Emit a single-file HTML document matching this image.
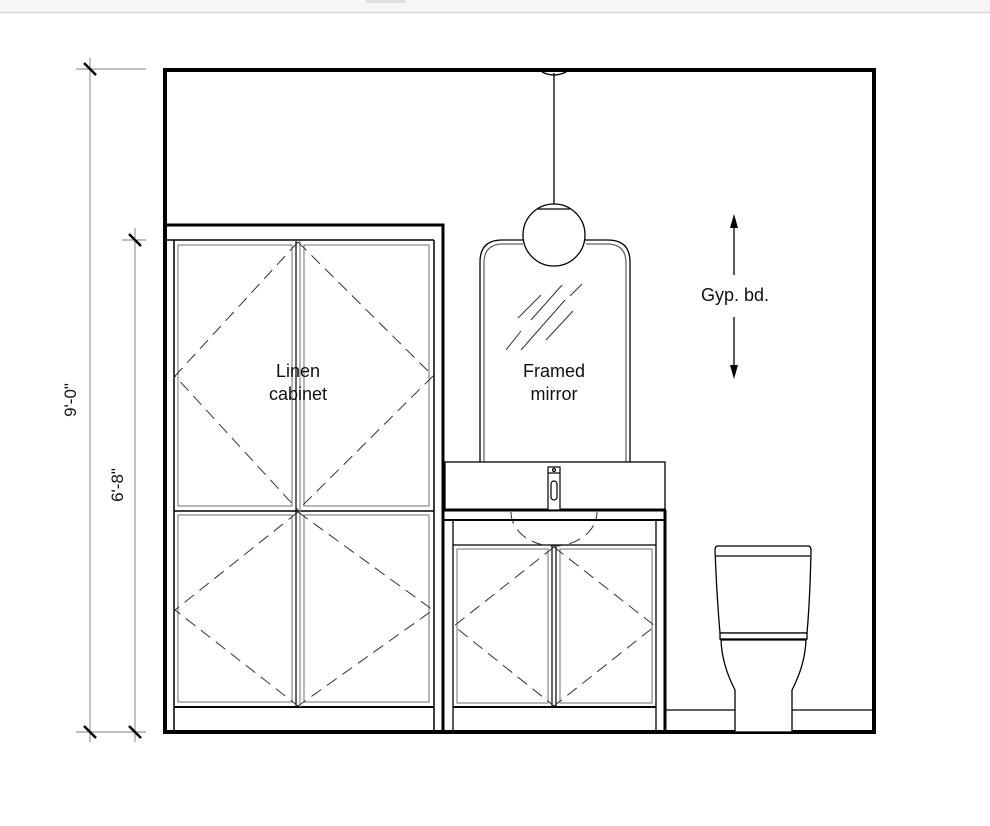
<!DOCTYPE html>
<html><head><meta charset="utf-8"><style>
html,body{margin:0;padding:0;background:#fff;}
svg{display:block;}
text{font-family:"Liberation Sans",Arial,sans-serif;fill:#111;}
</style></head><body>
<svg width="990" height="826" viewBox="0 0 990 826" xmlns="http://www.w3.org/2000/svg">
<rect x="0" y="0" width="990" height="12" fill="#f6f6f6"/>
<line x1="0" y1="12.5" x2="990" y2="12.5" stroke="#d8d8d8" stroke-width="1.5"/>
<rect x="366" y="0" width="40" height="3" fill="#e0e0e0"/>

<g stroke="#999" stroke-width="1.2" fill="none">
<line x1="90" y1="58" x2="90" y2="742"/>
<line x1="76" y1="69" x2="146" y2="69"/>
<line x1="76" y1="732" x2="146" y2="732"/>
<line x1="135" y1="228" x2="135" y2="742"/>
<line x1="122" y1="240" x2="146" y2="240"/>
</g>
<g stroke="#000" stroke-width="2.5">
<line x1="84" y1="63" x2="96" y2="75"/>
<line x1="84" y1="726" x2="96" y2="738"/>
<line x1="129" y1="234" x2="141" y2="246"/>
<line x1="129" y1="726" x2="141" y2="738"/>
</g>
<text x="0" y="0" font-size="17" text-anchor="middle" transform="translate(76,400) rotate(-90)">9'-0"</text>
<text x="0" y="0" font-size="17" text-anchor="middle" transform="translate(123,485) rotate(-90)">6'-8"</text>

<rect x="165" y="70" width="709" height="662" fill="none" stroke="#000" stroke-width="4"/>

<g fill="none" stroke="#000">
<polyline points="165,225 443,225 443,732" stroke-width="3"/>
<line x1="165" y1="240" x2="434" y2="240" stroke-width="1.5"/>
<line x1="174" y1="240" x2="174" y2="732" stroke-width="1.5"/>
<line x1="434" y1="240" x2="434" y2="732" stroke-width="1.5"/>
<line x1="174" y1="511" x2="434" y2="511" stroke-width="1.5"/>
<line x1="174" y1="707" x2="434" y2="707" stroke-width="2"/>
<line x1="296" y1="241" x2="296" y2="707" stroke-width="1.2"/>
<line x1="300" y1="241" x2="300" y2="707" stroke-width="1.2" stroke="#888"/>
</g>
<g fill="none" stroke="#888" stroke-width="1.2">
<rect x="178" y="245" width="114" height="261"/>
<rect x="304" y="245" width="125" height="261"/>
<rect x="178" y="515" width="114" height="187"/>
<rect x="304" y="515" width="125" height="187"/>
</g>
<g fill="none" stroke="#333" stroke-width="1" stroke-dasharray="12,7">
<polyline points="298,242 175,376 298,510"/>
<polyline points="298,242 433,376 298,510"/>
<polyline points="298,512 175,610 298,706"/>
<polyline points="298,512 433,610 298,706"/>
</g>
<text x="298" y="377" font-size="18" text-anchor="middle">Linen</text>
<text x="298" y="400" font-size="18" text-anchor="middle">cabinet</text>

<g fill="none" stroke="#000" stroke-width="1.3">
<path d="M480,462 L480,262 Q480,240 502,240 L524,240 M585,240 L608,240 Q630,240 630,262 L630,462"/>
<path d="M484,462 L484,263 Q484,244 503,244 L523,244 M586,244 L607,244 Q626,244 626,263 L626,462" stroke="#666"/>
<line x1="554" y1="73" x2="554" y2="205"/>
<circle cx="554" cy="235" r="31" fill="#fff"/>
<line x1="538" y1="209" x2="570" y2="209"/>
<path d="M542,72 Q554,78 566,72"/>
</g>
<g stroke="#333" stroke-width="1">
<line x1="518" y1="318" x2="541" y2="295"/>
<line x1="531" y1="320" x2="562" y2="285"/>
<line x1="570" y1="296" x2="582" y2="284"/>
<line x1="506" y1="350" x2="521" y2="331"/>
<line x1="521" y1="350" x2="565" y2="300"/>
<line x1="546" y1="340" x2="573" y2="311"/>
</g>
<text x="554" y="377" font-size="18" text-anchor="middle">Framed</text>
<text x="554" y="400" font-size="18" text-anchor="middle">mirror</text>

<g stroke="#000" stroke-width="1.3">
<line x1="734" y1="225" x2="734" y2="275"/>
<line x1="734" y1="317" x2="734" y2="368"/>
</g>
<polygon points="734,214 730,228 738,228" fill="#000"/>
<polygon points="734,379 730,365 738,365" fill="#000"/>
<text x="735" y="301" font-size="18" text-anchor="middle">Gyp. bd.</text>

<g fill="none" stroke="#000">
<rect x="445" y="462" width="220" height="48" stroke-width="1.3"/>
<line x1="443" y1="510" x2="666" y2="510" stroke-width="3"/>
<line x1="444" y1="520" x2="665" y2="520" stroke-width="2"/>
<line x1="665" y1="510" x2="665" y2="732" stroke-width="3"/>
<line x1="453" y1="520" x2="453" y2="732" stroke-width="1.3"/>
<line x1="656" y1="520" x2="656" y2="732" stroke-width="1.3"/>
<line x1="453" y1="545" x2="656" y2="545" stroke-width="1.3"/>
<line x1="453" y1="707" x2="656" y2="707" stroke-width="2"/>
<line x1="552" y1="546" x2="552" y2="706" stroke-width="1.2"/>
<line x1="556" y1="546" x2="556" y2="706" stroke-width="1.2"/>
</g>
<g fill="none" stroke="#888" stroke-width="1.2">
<rect x="457" y="549" width="91" height="154"/>
<rect x="560" y="549" width="92" height="154"/>
</g>
<g fill="none" stroke="#333" stroke-width="1" stroke-dasharray="12,7">
<polyline points="554,547 454,626 554,706"/>
<polyline points="554,547 655,626 554,706"/>
<path d="M511,512 A43,34 0 0 0 597,512"/>
</g>
<g fill="#fff" stroke="#000" stroke-width="1.2">
<rect x="548" y="467" width="12" height="43"/>
<line x1="548" y1="473" x2="560" y2="473"/>
<circle cx="554" cy="470" r="1.5"/>
<rect x="551" y="481" width="6" height="19" rx="3"/>
</g>

<line x1="666" y1="710" x2="873" y2="710" stroke="#000" stroke-width="1.3"/>

<g fill="#fff" stroke="#000" stroke-width="1.3">
<path d="M735,732 L735,690 Q722,665 721,640 L806,640 Q805,665 792,690 L792,732 Z"/>
<path d="M717,546 L809,546 Q811,547 811,550 Q810,600 807,633 L720,633 Q717,600 715,550 Q715,547 717,546 Z"/>
<line x1="716" y1="556" x2="810" y2="556"/>
<rect x="720" y="633" width="87" height="6"/>
</g>
</svg>
</body></html>
